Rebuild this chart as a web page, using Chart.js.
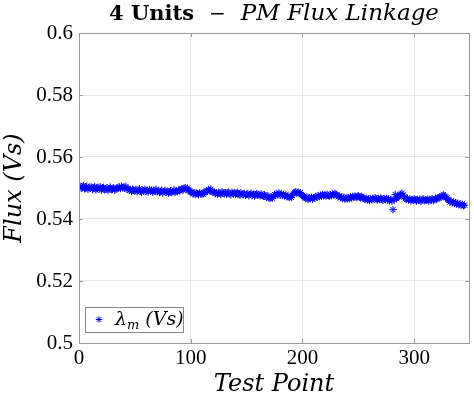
<!DOCTYPE html>
<html><head><meta charset="utf-8">
<script src="https://cdn.jsdelivr.net/npm/chart.js@4/dist/chart.umd.min.js"></script>
<style>html,body{margin:0;padding:0;background:#fff;}#wrap{width:474px;height:394px;}</style>
</head><body><div id="wrap"><canvas id="c" width="474" height="394"></canvas></div>
<script>
// Flux values, test points 1..345
const fluxValues = [
0.5505,0.5499,0.5503,0.5508,0.5497,0.5501,0.5506,0.5496,0.5502,0.5499,
0.5503,0.5495,0.5500,0.5505,0.5494,0.5498,0.5502,0.5497,0.5504,0.5493,
0.5499,0.5502,0.5494,0.5497,0.5501,0.5492,0.5498,0.5503,0.5495,0.5496,
0.5500,0.5493,0.5497,0.5501,0.5499,0.5504,0.5498,0.5506,0.5501,0.5503,
0.5499,0.5505,0.5496,0.5498,0.5492,0.5495,0.5489,0.5496,0.5493,0.5490,
0.5495,0.5488,0.5493,0.5497,0.5490,0.5486,0.5494,0.5491,0.5496,0.5489,
0.5492,0.5487,0.5495,0.5490,0.5494,0.5486,0.5492,0.5489,0.5496,0.5488,
0.5491,0.5485,0.5489,0.5493,0.5484,0.5488,0.5492,0.5486,0.5490,0.5483,
0.5487,0.5491,0.5485,0.5489,0.5494,0.5486,0.5490,0.5488,0.5493,0.5491,
0.5494,0.5497,0.5493,0.5499,0.5501,0.5496,0.5500,0.5494,0.5490,0.5487,
0.5486,0.5481,0.5485,0.5479,0.5484,0.5482,0.5478,0.5485,0.5480,0.5483,
0.5480,0.5484,0.5488,0.5491,0.5489,0.5495,0.5492,0.5496,0.5488,0.5486,
0.5487,0.5482,0.5485,0.5480,0.5486,0.5483,0.5479,0.5488,0.5484,0.5481,
0.5485,0.5480,0.5484,0.5487,0.5481,0.5478,0.5486,0.5482,0.5485,0.5479,
0.5483,0.5486,0.5480,0.5477,0.5484,0.5481,0.5478,0.5482,0.5476,0.5480,
0.5481,0.5475,0.5479,0.5483,0.5476,0.5480,0.5474,0.5478,0.5482,0.5477,
0.5479,0.5475,0.5481,0.5476,0.5473,0.5478,0.5474,0.5470,0.5475,0.5468,
0.5466,0.5471,0.5467,0.5474,0.5479,0.5476,0.5482,0.5478,0.5484,0.5477,
0.5481,0.5476,0.5479,0.5475,0.5478,0.5472,0.5474,0.5469,0.5473,0.5470,
0.5476,0.5481,0.5485,0.5488,0.5483,0.5487,0.5482,0.5485,0.5479,0.5476,
0.5473,0.5469,0.5466,0.5471,0.5463,0.5468,0.5465,0.5470,0.5464,0.5469,
0.5468,0.5473,0.5470,0.5475,0.5472,0.5477,0.5474,0.5479,0.5475,0.5478,
0.5474,0.5480,0.5476,0.5473,0.5478,0.5475,0.5481,0.5477,0.5483,0.5479,
0.5476,0.5472,0.5474,0.5469,0.5471,0.5466,0.5470,0.5464,0.5468,0.5465,
0.5469,0.5466,0.5471,0.5468,0.5473,0.5470,0.5474,0.5469,0.5472,0.5475,
0.5471,0.5468,0.5473,0.5469,0.5466,0.5463,0.5467,0.5461,0.5465,0.5460,
0.5466,0.5462,0.5467,0.5463,0.5469,0.5465,0.5461,0.5466,0.5463,0.5468,
0.5464,0.5460,0.5466,0.5462,0.5467,0.5461,0.5465,0.5459,0.5463,0.5458,
0.5430,0.5462,0.5479,0.5466,0.5470,0.5473,0.5476,0.5480,0.5483,0.5477,
0.5471,0.5466,0.5463,0.5467,0.5461,0.5464,0.5459,0.5463,0.5460,0.5465,
0.5462,0.5458,0.5463,0.5460,0.5464,0.5457,0.5461,0.5465,0.5459,0.5462,
0.5460,0.5464,0.5458,0.5463,0.5461,0.5466,0.5459,0.5463,0.5467,0.5464,
0.5466,0.5469,0.5472,0.5470,0.5475,0.5478,0.5474,0.5471,0.5468,0.5463,
0.5460,0.5455,0.5458,0.5452,0.5455,0.5450,0.5453,0.5448,0.5451,0.5446,
0.5449,0.5445,0.5447,0.5443,0.5445
];
const xTicks = [0, 100, 200, 300];
const xTickLabels = ['0', '100', '200', '300'];
const yTicks = [0.5, 0.52, 0.54, 0.56, 0.58, 0.6];
const yTickLabels = ['0.5', '0.52', '0.54', '0.56', '0.58', '0.6'];
const titleBold = '4 Units';
const titleSep = '\u2212';
const titleItalic = 'PM Flux Linkage';
const xTitle = 'Test Point';
const yTitle = 'Flux (Vs)';
const legendSymbol = '\u03BB';
const legendSub = 'm';
const legendUnit = '(Vs)';

const points = fluxValues.map((v, i) => ({x: i + 1, y: v}));

const AXC = '#9a9a9a';
const decor = {
  id: 'decor',
  afterDraw(chart) {
    const ctx = chart.ctx, a = chart.chartArea;
    const xs = chart.scales.x, ys = chart.scales.y;
    ctx.save();
    // box
    ctx.strokeStyle = AXC; ctx.lineWidth = 1;
    ctx.strokeRect(Math.round(a.left) + 0.5, Math.round(a.top) + 0.5, Math.round(a.right - a.left), Math.round(a.bottom - a.top));
    // inward ticks
    ctx.beginPath();
    yTicks.forEach(v => {
      const y = Math.round(ys.getPixelForValue(v)) + 0.5;
      ctx.moveTo(a.left, y); ctx.lineTo(a.left + 4, y);
      ctx.moveTo(a.right, y); ctx.lineTo(a.right - 4, y);
    });
    xTicks.forEach(v => {
      const x = Math.round(xs.getPixelForValue(v)) + 0.5;
      ctx.moveTo(x, a.bottom); ctx.lineTo(x, a.bottom - 4);
      ctx.moveTo(x, a.top); ctx.lineTo(x, a.top + 4);
    });
    ctx.stroke();
    // title (mixed styles)
    const fB = 'bold 21px "DejaVu Serif"';
    const fS = '20px "DejaVu Serif"';
    const fI = 'italic 23px "DejaVu Serif"';
    ctx.fillStyle = '#000';
    ctx.textBaseline = 'alphabetic';
    ctx.font = fB; const wB = ctx.measureText(titleBold).width;
    ctx.font = fS; const wS = ctx.measureText(titleSep).width;
    ctx.font = fI; const wI = ctx.measureText(titleItalic).width;
    const gap = 15;
    const total = wB + gap + wS + gap + wI;
    let tx = (a.left + a.right) / 2 - total / 2;
    const ty = 20;
    ctx.textAlign = 'left';
    ctx.font = fB; ctx.fillText(titleBold, tx, ty); tx += wB + gap;
    ctx.font = fS; ctx.fillText(titleSep, tx, ty); tx += wS + gap;
    ctx.font = fI; ctx.fillText(titleItalic, tx, ty);
    // legend
    const lx = a.left + 6, ly = a.bottom - 36, lw = 98, lh = 25;
    ctx.fillStyle = '#fff';
    ctx.fillRect(lx, ly, lw, lh);
    ctx.strokeStyle = '#8a8a8a';
    ctx.strokeRect(Math.round(lx) + 0.5, Math.round(ly) + 0.5, lw, lh);
    // marker
    const mx = lx + 14, my = ly + lh / 2;
    ctx.strokeStyle = '#0000ff'; ctx.lineWidth = 1;
    Chart.helpers.drawPoint(ctx, {pointStyle: 'star', radius: 3.2, rotation: 0, borderWidth: 1}, mx, my);
    ctx.fillStyle = '#000';
    let x0 = lx + 30; const by = ly + 18;
    ctx.font = 'italic 19px "DejaVu Serif"'; ctx.fillText(legendSymbol, x0, by); x0 += ctx.measureText(legendSymbol).width;
    ctx.font = 'italic 13px "DejaVu Serif"'; ctx.fillText(legendSub, x0, by + 4); x0 += ctx.measureText(legendSub).width + 6;
    ctx.font = 'italic 19px "DejaVu Serif"'; ctx.fillText(legendUnit, x0, by);
    ctx.restore();
  }
};

new Chart(document.getElementById('c'), {
  type: 'scatter',
  data: {
    datasets: [{
      label: legendSymbol + legendSub + ' ' + legendUnit,
      data: points,
      pointStyle: 'star',
      pointRadius: 3.7,
      pointBorderWidth: 1,
      borderColor: '#0000ff',
      backgroundColor: '#0000ff',
      showLine: false
    }]
  },
  options: {
    responsive: false,
    animation: false,
    layout: {padding: {top: 33, right: 5, left: 0, bottom: 0}},
    plugins: {legend: {display: false}, title: {display: false}, tooltip: {enabled: false}},
    scales: {
      x: {
        type: 'linear', min: 0, max: 349,
        afterBuildTicks: s => { s.ticks = xTicks.map(v => ({value: v})); },
        afterFit: s => { s.height = 51; },
        ticks: {callback: (v, i) => xTickLabels[i], color: '#000', padding: 3, maxRotation: 0,
          font: {family: '"Liberation Serif"', size: 21}},
        grid: {color: '#e6e6e6', drawTicks: false},
        border: {color: AXC},
        title: {display: true, text: xTitle, color: '#000', padding: 0,
          font: {family: '"DejaVu Serif"', style: 'italic', size: 24, lineHeight: 0.8}}
      },
      y: {
        type: 'linear', min: 0.5, max: 0.6,
        afterBuildTicks: s => { s.ticks = yTicks.map(v => ({value: v})); },
        afterFit: s => { s.width = 79; },
        ticks: {callback: (v, i) => yTickLabels[i], color: '#000', padding: 6,
          font: {family: '"Liberation Serif"', size: 21}},
        grid: {color: '#e6e6e6', drawTicks: false},
        border: {color: AXC},
        title: {display: true, text: yTitle, color: '#000', padding: 0,
          font: {family: '"DejaVu Serif"', style: 'italic', size: 24, lineHeight: 1.2}}
      }
    }
  },
  plugins: [decor]
});
</script></body></html>
